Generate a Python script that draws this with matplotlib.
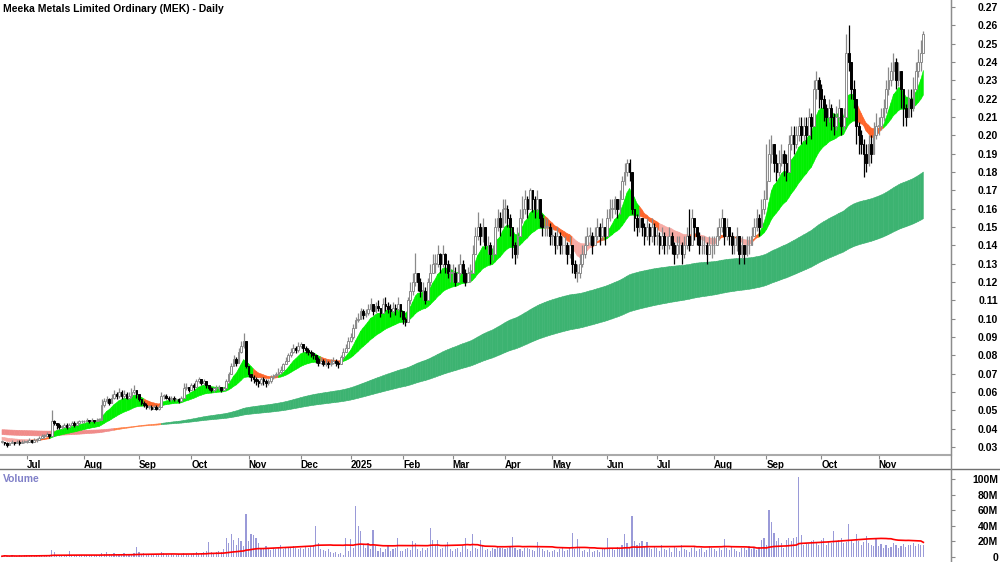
import matplotlib
matplotlib.use("Agg")
import matplotlib.pyplot as plt
import numpy as np
import pandas as pd
from matplotlib.collections import PolyCollection
from matplotlib.lines import Line2D

plt.rcParams['font.family'] = ['Liberation Sans', 'DejaVu Sans']

TITLE = "Meeka Metals Limited Ordinary (MEK) - Daily"

first_day = "2024-06-17"
last_day = "2025-11-27"
# ASX closed days inside the range
holidays = ["2024-12-25", "2024-12-26", "2025-01-01", "2025-01-27",
            "2025-04-18", "2025-04-21", "2025-04-25", "2025-06-09"]

# prices in thousandths of a dollar, one row per month (Jun 2024 .. Nov 2025)
close_k = [
    33, 32, 31, 32, 33, 32, 33, 32, 33, 33,
    33, 34, 33, 34, 34, 35, 36, 36, 37, 36, 44, 43, 42, 41, 41, 42, 41, 42, 43, 42, 43, 44, 44,
    44, 45, 44, 45, 44, 45, 45, 53, 55, 56, 54, 57, 59, 58, 60, 58, 59, 57, 58, 60, 61, 59,
    56, 54, 53, 52, 52, 51, 52, 51, 52, 58, 58, 57, 56, 57, 56, 56, 55, 57, 62, 63, 61,
    64, 63, 66, 67, 65, 66, 64, 62, 61, 62, 62, 63, 61, 62, 66, 70, 74, 78, 76, 82, 85, 88, 74,
    70, 68, 67, 66, 65, 67, 66, 65, 66, 68, 69, 70, 71, 72, 75, 77, 80, 82, 84, 83, 85,
    86, 84, 83, 82, 81, 80, 78, 76, 77, 75, 76, 75, 76, 77, 76, 75, 79, 82, 84, 88,
    90, 95, 99, 100, 104, 102, 103, 105, 108, 104, 107, 106, 103, 108, 107, 105, 104, 106, 105, 108, 104,
    100, 98, 110, 115, 120, 125, 120, 115, 115, 110, 120, 125, 130, 130, 135, 130, 135, 130, 125, 125,
    125, 120, 125, 130, 125, 120, 125, 125, 135, 145, 150, 145, 150, 140, 140, 135, 135, 150, 155, 150, 160,
    160, 155, 150, 140, 135, 145, 155, 160, 165, 160, 170, 165, 160, 165, 155, 150, 150, 150, 145,
    145, 140, 145, 140, 140, 140, 135, 140, 130, 125, 125, 130, 135, 140, 145, 145, 140, 145, 150, 145, 150, 145,
    155, 160, 160, 165, 160, 165, 175, 180, 185, 180, 160, 155, 150, 155, 150, 145, 150, 145, 150, 145,
    145, 140, 145, 140, 140, 145, 140, 135, 140, 140, 135, 140, 145, 140, 155, 150, 145, 140, 140, 140, 135, 140, 140,
    140, 145, 150, 155, 145, 150, 145, 140, 140, 145, 135, 140, 135, 140, 140, 145, 150, 155, 150, 160, 165,
    175, 190, 195, 185, 180, 185, 190, 185, 180, 195, 200, 195, 200, 205, 200, 205, 200, 210, 205, 225, 230, 225,
    220, 215, 210, 215, 210, 205, 210, 215, 205, 210, 245, 240, 225, 220, 205, 200, 195, 190, 185, 195, 190, 200, 205,
    205, 210, 215, 225, 230, 235, 240, 230, 235, 225, 215, 210, 220, 215, 225, 235, 240, 245, 255,
]
high_k = [
    34, 33, 33, 33, 34, 33, 34, 34, 34, 34,
    34, 35, 34, 35, 35, 36, 37, 37, 38, 37, 50, 45, 43, 43, 42, 43, 43, 43, 44, 44, 44, 45, 45,
    45, 46, 45, 46, 45, 46, 46, 56, 57, 58, 57, 59, 61, 60, 62, 61, 61, 60, 60, 62, 64, 61,
    58, 56, 55, 54, 53, 53, 53, 53, 53, 60, 59, 59, 58, 58, 58, 57, 57, 58, 65, 65, 63,
    65, 65, 67, 68, 67, 67, 66, 64, 63, 63, 64, 64, 63, 63, 67, 71, 76, 80, 79, 84, 88, 92, 86,
    73, 70, 69, 68, 67, 68, 68, 67, 67, 69, 70, 71, 73, 74, 76, 79, 81, 84, 86, 85, 87,
    87, 86, 85, 84, 83, 82, 80, 79, 79, 78, 78, 77, 78, 79, 78, 77, 80, 84, 86, 90,
    92, 97, 101, 103, 106, 105, 105, 108, 111, 108, 109, 110, 106, 111, 112, 109, 108, 109, 108, 112, 108,
    102, 101, 112, 120, 125, 136, 125, 122, 120, 117, 122, 130, 135, 135, 140, 136, 140, 136, 132, 130,
    130, 128, 130, 135, 132, 127, 128, 130, 140, 150, 158, 152, 155, 150, 145, 142, 140, 155, 160, 158, 165,
    165, 162, 157, 150, 142, 150, 160, 167, 170, 167, 171, 170, 167, 170, 162, 157, 155, 155, 152,
    150, 147, 150, 147, 145, 145, 142, 145, 140, 132, 130, 135, 140, 145, 150, 150, 147, 150, 155, 152, 155, 150,
    160, 165, 165, 167, 165, 170, 178, 185, 187, 187, 175, 160, 157, 160, 155, 152, 155, 152, 155, 152,
    150, 147, 150, 147, 145, 150, 147, 142, 145, 145, 142, 145, 150, 160, 160, 155, 150, 147, 145, 145, 142, 145, 145,
    145, 150, 155, 160, 155, 155, 150, 147, 145, 150, 145, 145, 140, 145, 145, 150, 155, 160, 157, 165, 170,
    195, 198, 200, 195, 190, 192, 195, 192, 190, 200, 205, 205, 205, 210, 210, 210, 210, 215, 212, 230, 235, 232,
    228, 222, 217, 220, 217, 212, 216, 220, 212, 215, 255, 260, 240, 230, 212, 207, 203, 198, 195, 200, 200, 207, 212,
    210, 215, 220, 230, 237, 240, 245, 242, 240, 235, 225, 217, 225, 225, 232, 240, 247, 252, 257,
]
low_k = [
    32, 31, 30, 31, 32, 31, 32, 31, 32, 32,
    32, 33, 32, 33, 33, 34, 35, 35, 36, 35, 36, 42, 40, 40, 40, 41, 40, 41, 42, 41, 42, 43, 43,
    43, 44, 43, 44, 43, 44, 44, 45, 52, 54, 53, 54, 56, 56, 57, 56, 57, 56, 56, 57, 59, 57,
    55, 53, 52, 51, 51, 50, 51, 50, 50, 52, 56, 56, 55, 55, 55, 55, 54, 55, 57, 61, 60,
    62, 61, 63, 65, 64, 64, 62, 61, 60, 60, 61, 61, 60, 61, 62, 65, 70, 74, 74, 76, 81, 84, 73,
    68, 66, 65, 64, 63, 64, 64, 63, 64, 65, 67, 68, 69, 70, 72, 75, 77, 79, 81, 81, 82,
    84, 82, 81, 80, 79, 78, 76, 74, 75, 74, 74, 73, 74, 75, 74, 73, 75, 78, 82, 84,
    87, 89, 95, 98, 100, 100, 101, 102, 104, 102, 103, 104, 101, 104, 104, 103, 101, 103, 102, 104, 101,
    97, 96, 99, 108, 113, 118, 115, 112, 110, 108, 110, 118, 125, 125, 128, 125, 128, 125, 122, 120,
    120, 118, 120, 124, 120, 118, 120, 120, 125, 135, 143, 140, 142, 138, 135, 130, 132, 135, 148, 145, 150,
    152, 150, 145, 133, 130, 133, 145, 152, 157, 155, 160, 158, 155, 158, 150, 145, 145, 145, 140,
    140, 135, 138, 135, 135, 135, 130, 133, 125, 122, 120, 122, 128, 133, 140, 140, 135, 140, 143, 140, 143, 140,
    150, 153, 155, 157, 155, 157, 165, 173, 178, 175, 157, 148, 145, 147, 145, 140, 143, 140, 142, 140,
    140, 135, 138, 135, 135, 138, 135, 130, 133, 135, 130, 133, 138, 137, 140, 143, 140, 135, 135, 135, 130, 135, 133,
    135, 140, 143, 147, 140, 143, 140, 135, 135, 137, 130, 133, 130, 134, 135, 140, 145, 148, 145, 150, 157,
    165, 175, 185, 180, 175, 178, 183, 178, 175, 185, 192, 190, 193, 197, 195, 197, 195, 200, 198, 205, 220, 215,
    215, 208, 205, 207, 203, 200, 203, 207, 200, 203, 210, 235, 220, 215, 195, 190, 190, 177, 180, 183, 185, 193, 198,
    200, 203, 208, 212, 222, 227, 230, 225, 227, 215, 205, 205, 210, 210, 213, 225, 232, 235, 245,
]
# daily volume, millions of shares
volume_m = [
    1, 2, 1, 1, 2, 1, 1, 2, 1, 2,
    2, 1, 2, 1, 2, 3, 2, 2, 3, 2, 9, 6, 3, 2, 2, 3, 2, 8, 3, 2, 2, 3, 2,
    2, 3, 2, 2, 3, 2, 3, 5, 4, 6, 4, 3, 5, 4, 3, 4, 5, 3, 4, 3, 5, 13,
    6, 4, 5, 3, 4, 3, 4, 3, 3, 6, 5, 4, 3, 4, 3, 3, 4, 3, 5, 4, 3,
    4, 5, 6, 4, 5, 6, 8, 19, 6, 5, 6, 8, 7, 10, 25, 18, 30, 22, 15, 25, 20, 14, 55,
    20, 30, 28, 25, 18, 12, 10, 14, 12, 9, 11, 10, 12, 15, 10, 13, 12, 11, 14, 12, 10,
    12, 10, 14, 11, 13, 16, 40, 18, 10, 9, 8, 10, 6, 5, 7, 4, 5, 3, 24, 8,
    23, 12, 65, 40, 33, 15, 12, 18, 10, 34, 14, 8, 12, 6, 10, 15, 8, 10, 12, 25, 8,
    8, 10, 12, 9, 20, 18, 10, 8, 12, 9, 11, 37, 22, 15, 22, 10, 12, 14, 19, 10,
    8, 10, 12, 6, 14, 25, 10, 8, 30, 12, 10, 22, 14, 9, 10, 8, 12, 10, 13, 12, 11,
    10, 12, 14, 26, 12, 9, 10, 8, 12, 11, 10, 9, 8, 19, 12, 10, 8, 9, 7,
    8, 9, 7, 10, 12, 8, 9, 11, 31, 10, 23, 12, 8, 9, 7, 10, 6, 8, 9, 7, 12, 10,
    24, 12, 10, 9, 13, 11, 15, 30, 18, 12, 52, 20, 15, 18, 20, 14, 19, 12, 10, 14,
    12, 8, 15, 10, 9, 11, 7, 14, 12, 8, 16, 10, 9, 6, 11, 13, 8, 10, 12, 7, 9, 14, 11,
    10, 8, 12, 9, 23, 11, 9, 13, 10, 8, 7, 12, 11, 9, 14, 10, 12, 9, 13, 22, 24,
    15, 60, 45, 31, 20, 24, 18, 12, 22, 25, 20, 24, 26, 103, 28, 16, 18, 17, 20, 22, 19, 16,
    22, 24, 16, 19, 18, 33, 20, 22, 24, 18, 19, 42, 22, 18, 30, 20, 16, 19, 27, 18, 16, 14, 24,
    14, 17, 12, 16, 11, 13, 18, 15, 12, 14, 17, 13, 16, 15, 18, 14, 17, 16, 15,
]

# ribbon values at the left edge of the chart
short_spans = [9, 12, 15, 19, 24, 30]
short_seed = [0.0342, 0.0344, 0.0346, 0.0349, 0.0352, 0.0355]
long_spans = [150, 170, 190, 210, 230, 260]
long_seed = [0.0368, 0.0373, 0.0378, 0.0384, 0.0389, 0.0395]

y_ticks = np.arange(0.03, 0.2701, 0.01)
vol_ticks = [0, 20, 40, 60, 80, 100]
vol_tick_labels = ["0", "20M", "40M", "60M", "80M", "100M"]

# ---------------------------------------------------------------------------
dates = pd.bdate_range(first_day, last_day)
dates = dates[~dates.isin(pd.to_datetime(holidays))]
n = min(len(dates), len(close_k), len(high_k), len(low_k), len(volume_m))
dates = dates[:n]
c = np.array(close_k[:n]) / 1000
o = np.r_[c[0], c[:-1]]
h = np.maximum(np.array(high_k[:n]) / 1000, np.maximum(o, c))
l = np.minimum(np.array(low_k[:n]) / 1000, np.minimum(o, c))
vol = np.array(volume_m[:n], dtype=float) * 1e6
x = np.arange(n)


def ema(values, span, seed):
    a = 2 / (span + 1)
    out = np.empty(len(values))
    e = seed
    for k, v in enumerate(values):
        e = e + a * (v - e)
        out[k] = e
    return out


def draw_ribbon(ax, spans, seeds, colors, z):
    lines = np.array([ema(c, s, sd) for s, sd in zip(spans, seeds)])
    lo = lines.min(axis=0)
    hi = lines.max(axis=0)
    d = np.diff(lines, axis=0)
    state = np.where((d < 0).all(axis=0), 0, np.where((d > 0).all(axis=0), 2, 1))
    polys, cols = [], []
    for i in range(n - 1):
        polys.append([(i, lo[i]), (i + 1, lo[i + 1]), (i + 1, hi[i + 1]), (i, hi[i])])
        cols.append(colors[state[i + 1]])
    pc = PolyCollection(polys, facecolors=cols, edgecolors=cols, linewidths=0.4, zorder=z)
    ax.add_collection(pc)


fig = plt.figure(figsize=(10, 5.62), dpi=100)
ax = fig.add_axes([0, 1 - 455 / 562, 0.951, 455 / 562])
axv = fig.add_axes([0, 0, 0.951, 1 - 469 / 562])

# GMMA style ribbons: bull order, mixed, bear order
draw_ribbon(ax, long_spans, long_seed, ["#3cb371", "#ff7f45", "#f08a88"], 1)
draw_ribbon(ax, short_spans, short_seed, ["#00f000", "#ff6428", "#f7aaa4"], 2)

up = c >= o
wick_cols = np.where(up, "#8a8a8a", "black")
ax.vlines(x, l, h, colors=wick_cols, linewidth=0.9, zorder=3)
body = np.maximum(np.abs(c - o), 0.0004)
ax.bar(x, body, bottom=np.minimum(o, c), width=0.72,
       color=np.where(up, "white", "black"), edgecolor=np.where(up, "#8a8a8a", "black"),
       linewidth=0.7, zorder=4)

ax.set_xlim(-0.8, 381.1)
ax.set_ylim(0.02564, 0.2738)
ax.yaxis.tick_right()
ax.set_yticks(y_ticks)
ax.set_yticklabels([f"{t:.2f}" for t in y_ticks], ha="right", fontweight="bold")
ax.tick_params(axis="y", direction="out", length=3, pad=31, labelsize=7.5,
               color="#888888", labelcolor="black")

# month ticks on first trading day of each month
month_idx = [i for i in range(1, n) if dates[i].month != dates[i - 1].month]
month_lab = [str(dates[i].year) if dates[i].month == 1 else dates[i].strftime("%b") for i in month_idx]
ax.set_xticks(month_idx)
ax.set_xticklabels(month_lab, ha="left", fontweight="bold")
ax.tick_params(axis="x", direction="out", length=3, pad=0.5, labelsize=7,
               color="#888888", labelcolor="black")
for s in ["top", "left"]:
    ax.spines[s].set_visible(False)
ax.spines["bottom"].set_color("#aaaaaa")
ax.spines["bottom"].set_linewidth(1.5)
ax.spines["right"].set_color("#8c8c8c")

# volume panel
axv.bar(x, vol, width=0.45, color="#9a9ad8", zorder=2)
vol_ma = pd.Series(vol).rolling(50, min_periods=1).mean()
axv.plot(x, vol_ma, color="#ff0000", linewidth=1.2, zorder=3)
axv.set_xlim(-0.8, 381.1)
axv.set_ylim(-6.4e6, 112.8e6)
axv.set_xticks([])
axv.yaxis.tick_right()
axv.set_yticks([v * 1e6 for v in vol_ticks])
axv.set_yticklabels(vol_tick_labels, ha="right", fontweight="bold")
axv.tick_params(axis="y", direction="out", length=3, pad=31, labelsize=7.5,
                color="#888888", labelcolor="black")
for s in ["bottom", "left", "top"]:
    axv.spines[s].set_visible(False)
axv.spines["right"].set_color("#8c8c8c")

fig.add_artist(Line2D([0, 1], [1 - 469 / 562] * 2, transform=fig.transFigure,
                      color="#707070", linewidth=1))
fig.add_artist(Line2D([0.951, 0.951], [0, 1], transform=fig.transFigure,
                      color="#8c8c8c", linewidth=1))

fig.text(0.003, 1 - 9 / 562, TITLE, ha="left", va="center", fontsize=7.5, fontweight="bold")
fig.text(0.003, 1 - 479 / 562, "Volume", ha="left", va="center", fontsize=7.5,
         fontweight="bold", color="#8080c8")

fig.savefig("out.png", dpi=100)
plt.close(fig)
